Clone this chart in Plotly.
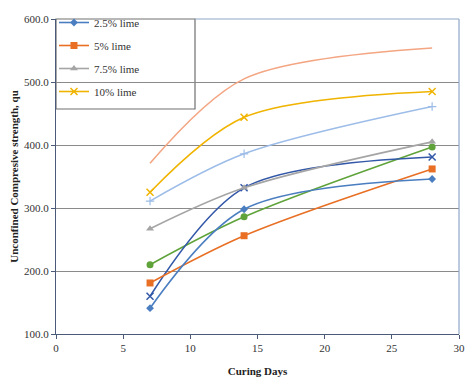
import plotly.graph_objects as go

days = [7, 14, 28]
lime_2_5 = [141, 298, 346]
lime_5 = [181, 256, 362]
lime_7_5 = [267, 332, 405]
lime_10 = [325, 444, 485]
series_dark_blue = [160, 332, 381]
series_green = [210, 286, 397]
series_light_blue = [311, 386, 461]
series_salmon = [371, 505, 554]

fig = go.Figure()

def add(y, color, symbol, name, show, size=6, rank=1000):
    fig.add_trace(go.Scatter(
        x=days, y=y, mode="lines+markers", name=name, showlegend=show,
        legendgroup=name, legendrank=rank,
        line=dict(color=color, width=1.6, shape="spline", smoothing=0.9),
        marker=dict(color=color, symbol=symbol, size=size),
    ))

add(series_salmon, "#F4A582", "line-ew", "s8", False, 1)
add(series_light_blue, "#9DBDE8", "cross-thin", "s7", False, 6)
add(series_green, "#5FA33A", "circle", "s6", False, 7)
add(series_dark_blue, "#3358A8", "x-thin", "s5", False, 7)
add(lime_10, "#F0B400", "x-thin", "10% lime", True, 7, 4)
add(lime_7_5, "#A5A5A5", "triangle-up", "7.5% lime", True, 7, 3)
add(lime_5, "#E86F24", "square", "5% lime", True, 7, 2)
add(lime_2_5, "#4A7EC0", "diamond", "2.5% lime", True, 6, 1)

for tr in fig.data:
    if tr.marker.symbol == "x-thin":
        tr.marker.line = dict(color=tr.marker.color, width=1.5)
    if tr.marker.symbol == "cross-thin":
        tr.marker.line = dict(color=tr.marker.color, width=1.2)

paper_h = 379 - 53  # t=0
ydom_top = (paper_h - 11) / paper_h

fig.update_layout(
    width=466, height=379,
    margin=dict(l=48, r=15, t=0, b=53),
    paper_bgcolor="white", plot_bgcolor="white",
    font=dict(family="Liberation Serif", size=11, color="#333"),
    legend=dict(x=-0.005, y=1.0, xanchor="left", yanchor="top",
                borderwidth=0, bgcolor="rgba(0,0,0,0)",
                traceorder="grouped", font=dict(size=11),
                itemwidth=30, tracegroupgap=4),
    showlegend=True,
)
fig.update_xaxes(range=[0, 30], dtick=5, showgrid=False, showline=True,
                 linecolor="#4a5a78", linewidth=1.2, ticks="outside",
                 ticklen=4, tickcolor="#4a5a78", zeroline=False,
                 automargin=False,
                 title=dict(text="<b>Curing Days</b>", font=dict(size=11, color="#222"), standoff=14))
fig.update_yaxes(range=[100, 600], dtick=100, tickformat=".1f", showgrid=True,
                 domain=[0, ydom_top],
                 gridcolor="#8a8a8a", gridwidth=1, showline=True,
                 linecolor="#4a5a78", linewidth=1.2, ticks="outside",
                 ticklen=4, tickcolor="#4a5a78", zeroline=False,
                 automargin=False,
                 title=dict(text="<b>Unconfined Compresive strength, qu</b>", font=dict(size=11, color="#222"), standoff=4))

# legend box
fig.add_shape(type="rect", xref="paper", yref="paper", layer="between",
              x0=0.0, x1=(195 - 56) / 403, y0=ydom_top * (334 - 109) / 315, y1=ydom_top,
              line=dict(color="#707070", width=1.2), fillcolor="white")
# plot frame (top and right)
fig.add_shape(type="line", xref="paper", yref="paper", x0=1, x1=1, y0=0, y1=ydom_top,
              line=dict(color="#8fa6c8", width=1.2))
fig.add_shape(type="line", xref="paper", yref="paper", x0=(195 - 56) / 403, x1=1,
              y0=ydom_top, y1=ydom_top,
              line=dict(color="#8fa6c8", width=1.2))

fig.write_html("out.html")
